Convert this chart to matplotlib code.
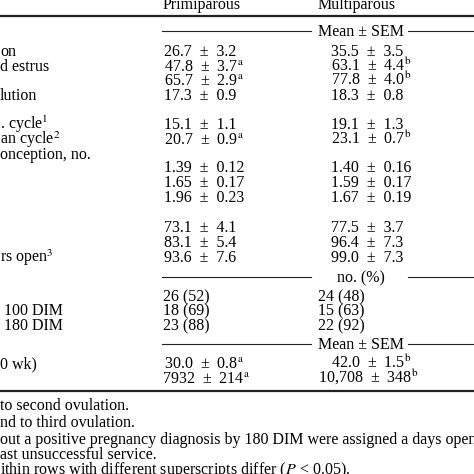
import matplotlib
matplotlib.use("Agg")
import matplotlib.pyplot as plt
from matplotlib.lines import Line2D

plt.rcParams['font.family'] = ['Liberation Serif', 'DejaVu Serif']
plt.rcParams['mathtext.fontset'] = 'stix'

labels = ["on", "d estrus", "", "lution", ". cycle$^{1}$", "an cycle$^{2}$", "onception, no.",
          "", "", "", "", "", "rs open$^{3}$"]
prim = ["26.7  ±  3.2", "47.8  ±  3.7$^{\\rm a}$", "65.7  ±  2.9$^{\\rm a}$", "17.3  ±  0.9",
        "15.1  ±  1.1", "20.7  ±  0.9$^{\\rm a}$", "", "1.39  ±  0.12", "1.65  ±  0.17",
        "1.96  ±  0.23", "73.1  ±  4.1", "83.1  ±  5.4", "93.6  ±  7.6"]
multi = ["35.5  ±  3.5", "63.1  ±  4.4$^{\\rm b}$", "77.8  ±  4.0$^{\\rm b}$", "18.3  ±  0.8",
         "19.1  ±  1.3", "23.1  ±  0.7$^{\\rm b}$", "", "1.40  ±  0.16", "1.59  ±  0.17",
         "1.67  ±  0.19", "77.5  ±  3.7", "96.4  ±  7.3", "99.0  ±  7.3"]
ys1 = [51, 66, 80, 95, 124, 139, 154, 167, 182, 197, 227, 242, 257]

labels2 = ["", " 100 DIM", " 180 DIM"]
prim2 = ["26 (52)", "18 (69)", "23 (88)"]
multi2 = ["24 (48)", "15 (63)", "22 (92)"]
ys2 = [296, 310, 325]

labels3 = ["0 wk)", ""]
prim3 = ["30.0  ±  0.8$^{\\rm a}$", "7932  ±  214$^{\\rm a}$"]
multi3 = ["42.0  ±  1.5$^{\\rm b}$", "10,708  ±  348$^{\\rm b}$"]
ys3 = [363, 378]

footnotes = ["to second ovulation.", "nd to third ovulation.",
             "out a positive pregnancy diagnosis by 180 DIM were assigned a days open value",
             "ast unsuccessful service.",
             "ithin rows with different superscripts differ ($P$ < 0.05)."]
ysf = [405, 422, 439, 454, 469]

W = H = 474
fig = plt.figure(figsize=(4.74, 4.74), dpi=100)
fs = 11.5

def T(x, y, s, **kw):
    # y is the visual centre of digits; place on baseline
    fig.text(x / W, 1 - (y + 5) / H, s, fontsize=kw.pop('fs', fs), va='baseline', **kw)

def L(x0, x1, y, lw=0.8):
    fig.add_artist(Line2D([x0 / W, x1 / W], [1 - y / H, 1 - y / H], color='#222222', lw=lw))

T(163, 4, "Primiparous")
T(318, 4, "Multiparous")
L(0, W, 16, 1.6)

def group_header(y, s):
    L(162, 311, y)
    L(408, W, y)
    T(361, y, s, ha='center')

group_header(31, "Mean ± SEM")
for lab, p, m, y in zip(labels, prim, multi, ys1):
    T(0, y, lab); T(164, y, p); T(331, y, m)

group_header(277, "no. (%)")
for lab, p, m, y in zip(labels2, prim2, multi2, ys2):
    T(0, y, lab); T(163, y, p); T(318, y, m)

group_header(344, "Mean ± SEM")
for lab, p, m, y in zip(labels3, prim3, multi3, ys3):
    T(0, y, lab)
    T(164 if y == ys3[0] else 162, y, p)
    T(331 if y == ys3[0] else 318, y, m)
L(0, W, 391, 1.6)

for s, y in zip(footnotes, ysf):
    T(0, y, s)

fig.savefig("out.png", dpi=100)
